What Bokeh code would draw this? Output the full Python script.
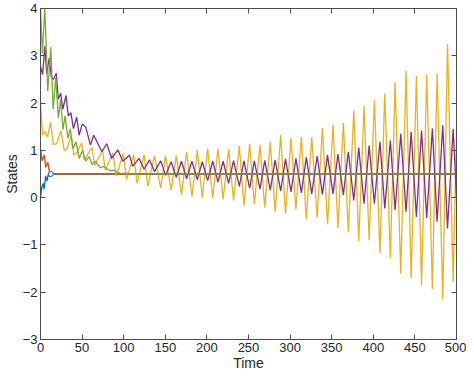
from bokeh.plotting import figure
from bokeh.models import LinearAxis, FixedTicker, ColumnDataSource, Range1d
from bokeh.embed import file_html
from bokeh.resources import INLINE

# ---------------- data ----------------
x_ticks = [0, 50, 100, 150, 200, 250, 300, 350, 400, 450, 500]
y_ticks = [-3, -2, -1, 0, 1, 2, 3, 4]

blue_t = [0, 1.5, 3.1, 4.3, 6.2, 7.8, 9.3, 10.8, 12.4, 500]
blue_y = [0.0, 0.21, 0.30, 0.18, 0.46, 0.35, 0.49, 0.45, 0.5, 0.5]

orange_t = [0, 2.0, 4.7, 6.4, 8.7, 11.3, 500]
orange_y = [1.02, 0.78, 0.90, 0.64, 0.75, 0.50, 0.50]

yellow_t = [0, 2.5, 5.5, 8.5, 12, 15.5, 19.5, 24.5, 28.5, 32, 37, 40, 44, 49.5, 52.5,
            62, 65, 74.5, 78, 87, 91, 99.5, 103.5, 112, 116, 124.5, 129, 137, 144.5,
            150.3, 157, 163.2, 169.5, 175.6, 182, 188.4, 194.5, 200.9, 207, 213.3, 219.5,
            226.1, 232, 239, 244.5, 251.4, 257, 263.8, 269.5, 276.2, 282, 288.7, 294.5,
            301.1, 307, 313.5, 319.5, 326, 332.5, 338.8, 345, 351.6, 357.5, 364, 370,
            376.5, 382.5, 388.9, 395, 401.3, 408, 413.8, 420.5, 426.2, 433, 439.4, 445.5,
            451.8, 458, 464.2, 471, 476.7, 483.5, 489.2, 496, 500]
yellow_y = [2.0, 1.32, 1.40, 1.28, 1.60, 1.12, 1.14, 1.42, 1.00, 1.04, 1.32, 0.90, 0.96, 1.16, 0.80,
            1.06, 0.68, 1.00, 0.58, 0.95, 0.46, 0.93, 0.38, 0.91, 0.30, 0.90, 0.24, 0.89, 0.20,
            0.89, 0.16, 0.89, 0.06, 0.97, 0.02, 1.00, 0.00, 1.03, -0.01, 1.04, -0.03,
            1.02, -0.06, 1.09, -0.17, 1.14, -0.14, 1.12, -0.21, 1.18, -0.30, 1.32, -0.34,
            1.26, -0.25, 1.28, -0.46, 1.28, -0.42, 1.47, -0.56, 1.54, -0.64, 1.58, -0.73,
            1.84, -0.92, 1.94, -0.90, 2.06, -1.17, 2.20, -1.28, 2.44, -1.61, 2.68, -1.71,
            2.57, -1.85, 2.60, -1.93, 2.63, -2.15, 3.25, -1.78, 1.35]

purple_t = [0, 2.5, 5.2, 7.5, 10.5, 13, 15.5, 19, 21.3, 24.2, 26.8, 30.7, 33.4, 36.5, 39.6,
            43.5, 46.4, 50.2, 54.4, 60, 64, 73.8, 79.6, 85.5, 93, 99, 107, 110.7, 118.5,
            124.5, 131, 137, 144.5, 150.3, 157, 163.2, 169.5, 175.6, 182, 188.4, 194.5,
            200.9, 207, 213.3, 219.5, 226.1, 232, 239, 244.5, 251.4, 257, 263.8, 269.5,
            276.2, 282, 288.7, 294.5, 301.1, 307, 313.5, 319.5, 326, 332.5, 338.8, 345,
            351.6, 357.5, 364, 370, 376.5, 382.5, 388.9, 395, 401.3, 408, 413.8, 420.5,
            426.2, 433, 439.4, 445.5, 451.8, 458, 464.2, 471, 476.7, 483.5, 489.2, 496, 500]
purple_y = [2.78, 2.60, 3.20, 2.62, 2.95, 2.55, 2.50, 2.63, 2.08, 2.21, 1.87, 2.16, 1.73, 1.80, 1.46,
            1.70, 1.32, 1.56, 1.49, 1.11, 1.32, 0.97, 1.14, 0.83, 1.01, 0.77, 0.90, 0.66, 0.83,
            0.60, 0.80, 0.55, 0.78, 0.47, 0.76, 0.43, 0.77, 0.40, 0.77, 0.38, 0.76,
            0.36, 0.77, 0.33, 0.77, 0.30, 0.78, 0.24, 0.78, 0.20, 0.78, 0.18, 0.79,
            0.16, 0.80, 0.14, 0.82, 0.12, 0.83, 0.10, 0.85, 0.08, 0.88, 0.07, 0.90,
            0.08, 0.92, 0.06, 0.97, -0.06, 1.06, -0.13, 1.10, -0.13, 1.18, -0.23, 1.21,
            -0.26, 1.35, -0.30, 1.39, -0.41, 1.42, -0.43, 1.46, -0.51, 1.53, -0.65, 1.45, 0.0]

green_t = [0, 2.3, 5.2, 8.7, 12.4, 15.2, 18.3, 21.5, 24.1, 27, 29.5, 33, 35.8, 38.8, 42.7,
           46.6, 50.5, 54.4, 58.3, 62, 66, 72, 76, 83.5, 88, 95, 114, 500]
green_y = [4.0, 3.05, 4.0, 2.25, 3.18, 1.87, 2.53, 1.68, 2.08, 1.44, 1.73, 1.25, 1.46, 1.04, 1.18,
           0.83, 1.00, 0.77, 0.87, 0.70, 0.77, 0.63, 0.66, 0.57, 0.58, 0.52, 0.50, 0.50]

marker_t = [12.4]
marker_y = [0.5]

# ---------------- plot ----------------
FONT = "Liberation Sans"
TXT = "#262626"
AX = "#4d4d4d"

p = figure(width=466, height=373, output_backend="svg", toolbar_location=None,
           x_range=Range1d(0, 500), y_range=Range1d(-3, 4),
           min_border_left=0, min_border_right=10, min_border_top=8, min_border_bottom=0)
p.xgrid.visible = False
p.ygrid.visible = False
p.outline_line_color = AX
p.background_fill_color = "white"
p.border_fill_color = "white"

lw = 1.3
orange_src = ColumnDataSource(dict(t=orange_t, y=orange_y))
p.line(blue_t, blue_y, line_color="#0072BD", line_width=lw)
p.line("t", "y", source=orange_src, line_color="#D95319", line_width=lw)
p.line(yellow_t, yellow_y, line_color="#EDB120", line_width=lw)
p.line(purple_t, purple_y, line_color="#7E2F8E", line_width=lw)
p.line(green_t, green_y, line_color="#77AC30", line_width=lw)
# orange steady state overlaps the green one: blend as in the original
p.line("t", "y", source=orange_src, line_color="#A0522D", line_width=lw, line_alpha=0.35)
p.scatter(marker_t, marker_y, marker="circle", size=5, line_color="#0072BD",
          fill_color="white", line_width=1)

def style_axis(ax, labels=True):
    ax.axis_line_color = AX
    ax.major_tick_line_color = AX
    ax.major_tick_in = 5
    ax.major_tick_out = 0
    ax.minor_tick_line_color = None
    if labels:
        ax.major_label_text_font = FONT
        ax.major_label_text_font_size = "13px"
        ax.major_label_text_color = TXT
        ax.major_label_standoff = 3
        ax.axis_label_text_font = FONT
        ax.axis_label_text_font_size = "14px"
        ax.axis_label_text_font_style = "normal"
        ax.axis_label_text_color = TXT
        ax.axis_label_standoff = 0
    else:
        ax.major_label_overrides = {t: "" for t in ax.ticker.ticks}
        ax.major_label_standoff = 0

p.xaxis.ticker = FixedTicker(ticks=x_ticks)
p.yaxis.ticker = FixedTicker(ticks=y_ticks)
p.xaxis.axis_label = "Time"
p.yaxis.axis_label = "States"
style_axis(p.xaxis[0])
style_axis(p.yaxis[0])

top = LinearAxis(ticker=FixedTicker(ticks=x_ticks))
right = LinearAxis(ticker=FixedTicker(ticks=y_ticks))
style_axis(top, labels=False)
style_axis(right, labels=False)
p.add_layout(top, "above")
p.add_layout(right, "right")

open("out.html", "w").write(file_html(p, INLINE))
